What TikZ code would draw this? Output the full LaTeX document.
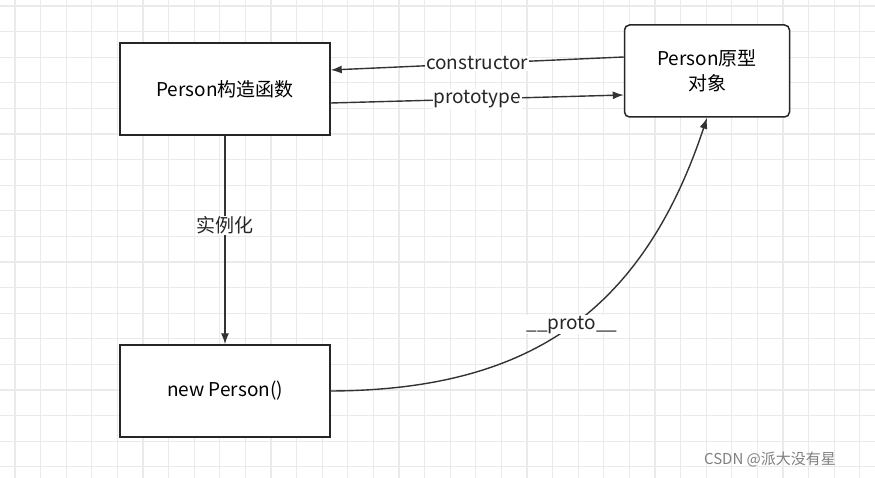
\documentclass[tikz,border=0pt]{standalone}
\usepackage{fontspec}
\setmainfont{Liberation Sans}
\newfontfamily\cjk{Noto Sans CJK SC}
\usetikzlibrary{arrows.meta}
\definecolor{gridgray}{RGB}{234,234,234}
\begin{document}
\begin{tikzpicture}[x=1pt,y=-1pt,font=\cjk\fontsize{19}{25}\selectfont,
  box/.style={draw=black!85, line width=1.5pt, fill=white, minimum width=210pt, minimum height=92pt, align=center},
  link/.style={line width=1.4pt, black!80, -{Latex[length=11pt,width=8pt]}},
  lbl/.style={fill=white, inner sep=1pt, text=black!85}]
\useasboundingbox (0,0) rectangle (875,478);
\fill[white] (0,0) rectangle (875,478);
\foreach \i in {0,...,33} \draw[gridgray, line width=1.2pt] (15+25.6*\i,0) -- (15+25.6*\i,478);
\foreach \i in {0,...,18} \draw[gridgray, line width=1.2pt] (0,6+25.6*\i) -- (875,6+25.6*\i);
\node[box] (ctor) at (225,89) {Person构造函数};
\node[box, minimum width=165pt, rounded corners=5pt] (proto) at (707,71) {Person原型\\对象};
\node[box] (inst) at (225,391) {new Person()};
\draw[link] (proto.west |- 0,57) -- node[lbl]{constructor} (ctor.east |- 0,70);
\draw[link] (ctor.east |- 0,103) -- node[lbl]{prototype} (proto.west |- 0,95);
\draw[link] (ctor) -- node[lbl, pos=0.43]{实例化} (inst);
\draw[link] (inst.east) .. controls (520,390) and (640,320) .. node[lbl, pos=0.52]{\_\_proto\_\_} (proto.south);
\node[text=black!50, font=\cjk\fontsize{15}{18}\selectfont] (mark) at (770,459) {CSDN @派大没有星};
\end{tikzpicture}
\end{document}
